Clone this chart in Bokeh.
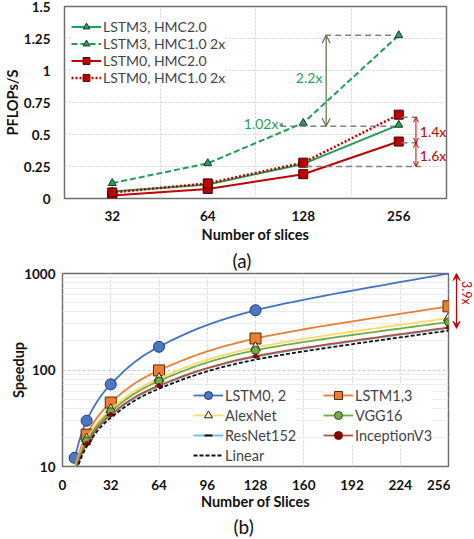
import numpy as np
from bokeh.plotting import figure
from bokeh.layouts import column, row
from bokeh.models import (FactorRange, Range1d, FixedTicker, Legend, LegendItem, Arrow,
                          OpenHead, VeeHead, Label, Title, NumeralTickFormatter)
from bokeh.embed import file_html
from bokeh.resources import INLINE

# ---------------- data: panel (a) ----------------
slices_a = ["32", "64", "128", "256"]
lstm3_hmc2 = [0.055, 0.11, 0.27, 0.575]
lstm3_hmc1_2x = [0.12, 0.275, 0.59, 1.275]
lstm0_hmc2 = [0.023, 0.075, 0.19, 0.445]
lstm0_hmc1_2x = [0.047, 0.118, 0.28, 0.655]
y_ticks_a = [0, 0.25, 0.5, 0.75, 1, 1.25, 1.5]

# ---------------- data: panel (b) ----------------
slices_b = [8, 16, 32, 64, 128, 256]
lstm02 = [12.3, 29.8, 71, 174, 416, 1000]
lstm13 = [9.8, 21.4, 46, 99, 212, 457]
alexnet = [9.3, 19.3, 39, 82, 171, 346]
vgg16 = [9.0, 18.5, 37, 77, 160, 315]
resnet152 = [8.4, 17.0, 34, 68, 137, 272]
inceptionv3 = [8.5, 17.2, 34.5, 69, 139, 276]
linear = [8, 16, 32, 64, 128, 256]
x_ticks_b = [0, 32, 64, 96, 128, 160, 192, 224, 256]
y_ticks_b = [10, 100, 1000]

FONT = "Lato"
GREEN = "#1f9e57"
RED = "#c00000"
GRID = "#d0d0d0"
BORDER = "#6f6f6f"
TICK_FS = "13.5px"
AXLBL_FS = "14.5px"


def style_axes(p):
    for ax in (p.xaxis[0], p.yaxis[0]):
        ax.axis_line_color = None
        ax.major_tick_line_color = None
        ax.minor_tick_line_color = None
        ax.major_tick_out = 0
        ax.major_tick_in = 0
        ax.minor_tick_out = 0
        ax.minor_tick_in = 0
        ax.major_label_text_font = FONT
        ax.major_label_text_font_style = "bold"
        ax.major_label_text_font_size = TICK_FS
        ax.major_label_text_color = "#111111"
        ax.axis_label_text_font = FONT
        ax.axis_label_text_font_style = "bold"
        ax.axis_label_text_font_size = AXLBL_FS
        ax.axis_label_text_color = "#111111"
    p.outline_line_color = BORDER
    p.outline_line_width = 1.5
    p.background_fill_color = "white"
    p.border_fill_color = "white"


# ================= panel (a) =================
pa = figure(width=474, height=248, x_range=FactorRange(factors=slices_a),
            y_range=Range1d(0, 1.5), output_backend="svg", toolbar_location=None, title=None,
            min_border_left=64, min_border_right=28, min_border_top=6, min_border_bottom=50)
style_axes(pa)
pa.yaxis.ticker = FixedTicker(ticks=y_ticks_a)
pa.yaxis.formatter = NumeralTickFormatter(format="0.[00]")
pa.yaxis.major_label_standoff = 14
pa.yaxis.axis_label = "PFLOPs/S"
pa.yaxis.axis_label_standoff = 0
pa.xaxis.major_label_standoff = 12
pa.xaxis.axis_label = "Number of slices"
pa.xaxis.axis_label_standoff = 2
pa.xgrid.ticker = FixedTicker(ticks=[1, 2, 3])
for g in (pa.xgrid[0], pa.ygrid[0]):
    g.grid_line_color = GRID
    g.grid_line_dash = "2 2"
    g.grid_line_width = 1

l1 = pa.line(slices_a, lstm3_hmc2, color=GREEN, line_width=2)
s1 = pa.scatter(slices_a, lstm3_hmc2, marker="triangle", size=8, fill_color="#2f9c63", line_color="#173d27")
l2 = pa.line(slices_a, lstm3_hmc1_2x, color=GREEN, line_width=2, line_dash="6 3")
s2 = pa.scatter(slices_a, lstm3_hmc1_2x, marker="triangle", size=8, fill_color="#2f9c63", line_color="#173d27")
l3 = pa.line(slices_a, lstm0_hmc2, color=RED, line_width=2)
s3 = pa.scatter(slices_a, lstm0_hmc2, marker="square", size=9, fill_color=RED, line_color="#3a0000")
l4 = pa.line(slices_a, lstm0_hmc1_2x, color=RED, line_width=2.5, line_dash="2 2")
s4 = pa.scatter(slices_a, lstm0_hmc1_2x, marker="square", size=9, fill_color=RED, line_color="#3a0000")

leg_a = Legend(items=[
    LegendItem(label="LSTM3, HMC2.0", renderers=[l1, s1]),
    LegendItem(label="LSTM3, HMC1.0 2x", renderers=[l2, s2]),
    LegendItem(label="LSTM0, HMC2.0", renderers=[l3, s3]),
    LegendItem(label="LSTM0, HMC1.0 2x", renderers=[l4, s4]),
], location=(7, 112), padding=3, spacing=0, glyph_width=30, glyph_height=17, label_height=17,
    label_standoff=2, label_text_font=FONT, label_text_font_size="14px",
    border_line_color=None, background_fill_alpha=1.0)
pa.add_layout(leg_a, "center")


def cx(cat, off=0.0):
    """synthetic categorical coordinate of a category plus an offset"""
    return slices_a.index(cat) + 0.5 + off


top256 = lstm3_hmc1_2x[3]
g256 = lstm3_hmc2[3]
g128 = lstm3_hmc1_2x[2]
r256d = lstm0_hmc1_2x[3]
r256s = lstm0_hmc2[3]
lvl128 = lstm3_hmc2[2]

pa.segment(x0=[cx("128", 0.23), cx("128", -0.24), cx("256", 0.03), cx("256", 0.03), cx("128", 0.03)],
           x1=[cx("256", -0.05), cx("256", -0.05), cx("256", 0.23), cx("256", 0.23), cx("256", 0.23)],
           y0=[top256, g256 - 0.01, r256d - 0.02, r256s - 0.01, lvl128 - 0.02],
           y1=[top256, g256 - 0.01, r256d - 0.02, r256s - 0.01, lvl128 - 0.02],
           line_color="#808080", line_width=1.5, line_dash="6 4")
pa.add_layout(Arrow(x_start=cx("128", 0.24), y_start=top256, x_end=cx("128", 0.24), y_end=g256 - 0.01,
                    start=OpenHead(size=8, line_color="#5b7040", line_width=1.2),
                    end=OpenHead(size=8, line_color="#5b7040", line_width=1.2),
                    line_color="#5b7040", line_width=1.2))
pa.add_layout(Arrow(x_start=cx("128", -0.23), y_start=g128, x_end=cx("128", -0.23), y_end=g256 - 0.012,
                    start=OpenHead(size=3, line_color="#808080", line_width=1),
                    end=OpenHead(size=3, line_color="#808080", line_width=1),
                    line_color="#808080", line_width=1))
pa.add_layout(Arrow(x_start=cx("256", 0.18), y_start=r256d - 0.02, x_end=cx("256", 0.18), y_end=r256s - 0.01,
                    start=OpenHead(size=5, line_color=RED, line_width=1),
                    end=OpenHead(size=5, line_color=RED, line_width=1),
                    line_color=RED, line_width=1))
pa.add_layout(Arrow(x_start=cx("256", 0.18), y_start=r256s - 0.01, x_end=cx("256", 0.18), y_end=lvl128 - 0.02,
                    start=OpenHead(size=5, line_color=RED, line_width=1),
                    end=OpenHead(size=5, line_color=RED, line_width=1),
                    line_color=RED, line_width=1))
for txt, x, y, align, col in [("2.2x", cx("128", 0.2), 0.945, "right", GREEN),
                              ("1.02x", cx("128", -0.26), 0.585, "right", GREEN),
                              ("1.4x", cx("256", 0.22), 0.525, "left", RED),
                              ("1.6x", cx("256", 0.22), 0.335, "left", RED)]:
    pa.add_layout(Label(x=x, y=y, text=txt, text_align=align, text_baseline="middle",
                        text_color=col, text_font=FONT, text_font_size="14px"))


# ================= panel (b) =================
def smooth(xs, ys, n=30):
    """Excel-like smoothed curve (Catmull-Rom Bezier) through the data points, in (x, log y)."""
    P = np.column_stack([np.asarray(xs, float), np.log10(np.asarray(ys, float))])
    Pe = np.vstack([P[0], P, P[-1]])
    out = []
    t = np.linspace(0, 1, n)[:, None]
    for i in range(len(P) - 1):
        p0, p3 = Pe[i + 1], Pe[i + 2]
        c1 = p0 + (Pe[i + 2] - Pe[i]) / 6.0
        c2 = p3 - (Pe[i + 3] - Pe[i + 1]) / 6.0
        seg = (1 - t) ** 3 * p0 + 3 * (1 - t) ** 2 * t * c1 + 3 * (1 - t) * t ** 2 * c2 + t ** 3 * p3
        out.append(seg if i == 0 else seg[1:])
    S = np.vstack(out)
    return S[:, 0], 10 ** S[:, 1]


HB = 539 - 248
TOPB = 25
BOTB = 73
yr_b = Range1d(10, 1000)
pb = figure(width=450, height=HB, x_range=Range1d(0, 256), y_range=yr_b,
            y_axis_type="log", output_backend="svg", toolbar_location=None,
            title="(a)", title_location="above",
            min_border_left=62, min_border_right=2, min_border_top=TOPB, min_border_bottom=BOTB)
pb.title.align = "left"
pb.title.offset = 170
pb.title.standoff = 0
pb.title.vertical_align = "top"
pb.title.text_font = FONT
pb.title.text_font_size = "19px"
pb.title.text_font_style = "normal"
pb.title.text_color = "#111111"
style_axes(pb)
pb.xaxis.ticker = FixedTicker(ticks=x_ticks_b)
pb.yaxis.ticker = FixedTicker(ticks=y_ticks_b,
                              minor_ticks=[20, 30, 40, 50, 60, 70, 80, 90, 200, 300, 400, 500, 600, 700, 800, 900])
pb.yaxis.formatter = NumeralTickFormatter(format="0")
pb.yaxis.major_label_standoff = 7
pb.yaxis.axis_label = "Speedup"
pb.yaxis.axis_label_standoff = -6
pb.xaxis.major_label_standoff = 13
pb.xaxis.axis_label = "Number of Slices"
pb.xaxis.axis_label_standoff = 0
pb.xgrid.grid_line_color = GRID
pb.xgrid.grid_line_dash = "2 2"
pb.ygrid.grid_line_color = "#c8c8c8"
pb.ygrid.grid_line_dash = "3 2"
pb.ygrid.minor_grid_line_color = "#ececec"

series_b = [
    ("LSTM0, 2", lstm02, "#4472c4", dict(marker="circle", size=11, fill_color="#4a78c8", line_color="#203864")),
    ("LSTM1,3", lstm13, "#ed7d31", dict(marker="square", size=11, fill_color="#ed7d31", line_color="#5a2a08")),
    ("AlexNet", alexnet, "#ffd966", dict(marker="triangle", size=10, fill_color="#fff2cc", line_color="#222222")),
    ("VGG16", vgg16, "#70ad47", dict(marker="circle", size=8, fill_color="#70ad47", line_color="#2e4a1e")),
    ("ResNet152", resnet152, "#5bc0eb", dict(marker="dash", size=8, line_color="#111111", line_width=2)),
    ("InceptionV3", inceptionv3, "#b5523b", dict(marker="circle", size=4, fill_color="#8b0000", line_color="#8b0000")),
    ("Linear", linear, "#111111", None),
]
items = {}
for name, ys, col, mk in series_b:
    sx, sy = smooth(slices_b, ys)
    if mk is None:
        r = pb.line(sx, sy, color=col, line_width=1.8, line_dash="4 2")
        items[name] = [r]
        continue
    r = pb.line(sx, sy, color=col, line_width=1.8)
    vis = [(x, y) for x, y in zip(slices_b, ys) if 10 <= y < 1000]
    m = pb.scatter([v[0] for v in vis], [v[1] for v in vis], **mk)
    items[name] = [r, m]

leg_common = dict(padding=2, spacing=0, glyph_width=30, glyph_height=20, label_height=20,
                  label_standoff=2, label_text_font=FONT, label_text_font_size="14.5px",
                  border_line_color=None, background_fill_alpha=1.0)
leg_b1 = Legend(items=[LegendItem(label=n, renderers=items[n]) for n in ["LSTM0, 2", "AlexNet", "ResNet152", "Linear"]],
                location=(131, 1), **leg_common)
leg_b2 = Legend(items=[LegendItem(label=n, renderers=items[n]) for n in ["LSTM1,3", "VGG16", "InceptionV3"]],
                location=(261, 21), **leg_common)
pb.add_layout(leg_b1, "center")
pb.add_layout(leg_b2, "center")

pb.add_layout(Title(text="(b)", align="left", offset=171, standoff=0, text_font=FONT,
                    text_font_size="19px", text_font_style="normal", text_color="#111111"), "below")

# side strip to the right of panel (b) for the 3.9x annotation
pc = figure(width=24, height=HB, x_range=Range1d(0, 1), y_range=yr_b, y_axis_type="log",
            output_backend="svg", toolbar_location=None, title=None,
            x_axis_location=None, y_axis_location=None,
            min_border_left=0, min_border_right=0, min_border_top=TOPB, min_border_bottom=BOTB)
pc.outline_line_color = None
pc.grid.visible = False
pc.add_layout(Arrow(x_start=0.25, y_start=lstm02[-1], x_end=0.25, y_end=inceptionv3[-1] - 6,
                    start=VeeHead(size=7, fill_color=RED, line_color=RED),
                    end=VeeHead(size=7, fill_color=RED, line_color=RED),
                    line_color=RED, line_width=1.2))
pc.add_layout(Label(x=0.66, y=(lstm02[-1] * inceptionv3[-1]) ** 0.5 * 1.2, text="3.9x", angle=-np.pi / 2,
                    text_align="center", text_baseline="middle", text_color=RED,
                    text_font=FONT, text_font_size="12.5px"))

layout = column(pa, row(pb, pc, spacing=0), spacing=0)
open("out.html", "w").write(file_html(layout, INLINE))
